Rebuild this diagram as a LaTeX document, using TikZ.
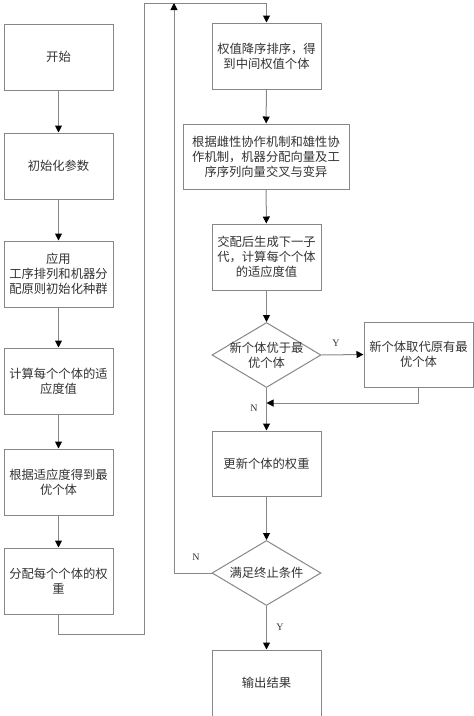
\documentclass[tikz,border=0pt]{standalone}
\usepackage{fontspec}
\setmainfont{Noto Sans CJK SC}
\newfontfamily\latinserif{Liberation Serif}
\usetikzlibrary{arrows.meta,shapes.geometric}
\definecolor{linegray}{RGB}{135,135,135}
\definecolor{textgray}{RGB}{50,50,50}
\begin{document}
\begin{tikzpicture}[x=1pt,y=-1pt,
  every node/.style={text=textgray},
  box/.style={draw=linegray,line width=1pt,rectangle,inner sep=0pt,minimum width=109pt,minimum height=66pt,align=center,font=\fontsize{12.3pt}{15pt}\selectfont},
  dia/.style={draw=linegray,line width=1pt,diamond,inner sep=0pt,minimum width=109pt,minimum height=65pt},
  dtext/.style={align=center,inner sep=0pt,font=\fontsize{12.3pt}{15pt}\selectfont},
  conn/.style={draw=linegray,line width=1pt},
  arr/.style={conn,-{Triangle[width=7pt,length=7pt,color=black]}},
  lbl/.style={font=\latinserif\fontsize{10pt}{12pt}\selectfont,inner sep=0pt}]
\useasboundingbox (0,0) rectangle (474,716);
% left column
\node[box] (start) at (58.5,57) {开始};
\node[box] (init) at (58.5,166) {初始化参数};
\node[box] (apply) at (58.5,274) {应用\\工序排列和机器分\\配原则初始化种群};
\node[box] (calc) at (58.5,381) {计算每个个体的适\\应度值};
\node[box] (best) at (58.5,482) {根据适应度得到最\\优个体};
\node[box] (assign) at (58.5,581) {分配每个个体的权\\重};
% right column
\node[box] (sort) at (266.5,56) {权值降序排序，得\\到中间权值个体};
\node[box,minimum width=166pt,minimum height=65pt] (cross) at (266,156.5) {根据雌性协作机制和雄性协\\作机制，机器分配向量及工\\序序列向量交叉与变异};
\node[box] (mate) at (266.5,257) {交配后生成下一子\\代，计算每个个体\\的适应度值};
\node[dia] (d1) at (266.5,355) {};
\node[dtext] at (d1.center) {新个体优于最\\优个体};
\node[box,minimum height=65pt] (repl) at (418.5,354.5) {新个体取代原有最\\优个体};
\node[box,minimum height=65pt] (upd) at (266.5,463.5) {更新个体的权重};
\node[dia] (d2) at (266.5,573) {};
\node[dtext] at (d2.center) {满足终止条件};
\node[box] (out) at (266.5,683) {输出结果};
% coordinates
\coordinate (lb) at (144,634);
\coordinate (lt) at (144,3);
\coordinate (merge) at (266.5,403);
\coordinate (nt) at (174,3);
% connectors
\draw[arr] (start) -- (init);
\draw[arr] (init) -- (apply);
\draw[arr] (apply) -- (calc);
\draw[arr] (calc) -- (best);
\draw[arr] (best) -- (assign);
\draw[arr] (assign.south) |- (lb) -- (lt) -| (sort.north);
\draw[arr] (sort) -- (cross);
\draw[arr] (cross) -- (mate);
\draw[arr] (mate) -- (d1);
\draw[arr] (d1.east) -- (repl.west);
\draw[arr] (repl.south) |- (merge);
\draw[arr] (d1.south) -- (upd.north);
\draw[arr] (upd) -- (d2);
\draw[arr] (d2.west) -| (nt);
\draw[arr] (d2.south) -- (out.north);
% labels
\node[lbl] (ly1) at (336,343) {Y};
\node[lbl] (ln1) at (254,408) {N};
\node[lbl] (ln2) at (196,557) {N};
\node[lbl] (ly2) at (280,627) {Y};
\end{tikzpicture}
\end{document}
